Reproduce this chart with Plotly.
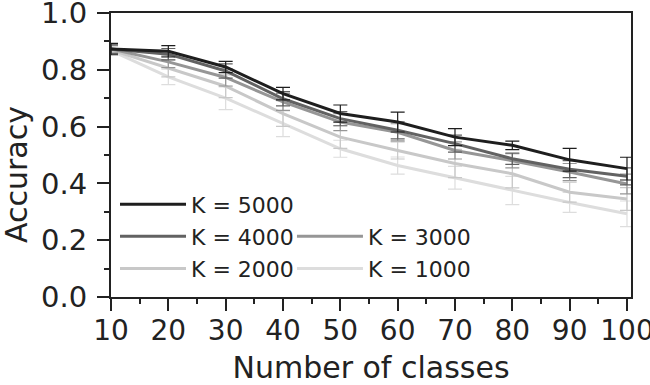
import plotly.graph_objects as go

classes = [10, 20, 30, 40, 50, 60, 70, 80, 90, 100]
acc_k5000 = [0.873, 0.865, 0.810, 0.716, 0.646, 0.616, 0.563, 0.534, 0.483, 0.452]
acc_k4000 = [0.873, 0.855, 0.796, 0.698, 0.628, 0.587, 0.540, 0.487, 0.450, 0.425]
acc_k3000 = [0.873, 0.828, 0.773, 0.687, 0.616, 0.580, 0.516, 0.480, 0.440, 0.398]
acc_k2000 = [0.870, 0.805, 0.742, 0.646, 0.563, 0.516, 0.470, 0.434, 0.369, 0.345]
acc_k1000 = [0.868, 0.775, 0.700, 0.610, 0.522, 0.463, 0.420, 0.375, 0.333, 0.293]
err_k5000 = [0.020, 0.020, 0.020, 0.022, 0.030, 0.035, 0.030, 0.015, 0.040, 0.040]
err_k4000 = [0.015, 0.020, 0.025, 0.025, 0.025, 0.030, 0.030, 0.020, 0.030, 0.030]
err_k3000 = [0.015, 0.020, 0.030, 0.030, 0.030, 0.030, 0.030, 0.025, 0.030, 0.035]
err_k2000 = [0.015, 0.030, 0.040, 0.045, 0.040, 0.030, 0.050, 0.050, 0.035, 0.040]
err_k1000 = [0.015, 0.027, 0.040, 0.045, 0.030, 0.030, 0.040, 0.050, 0.035, 0.045]

series_names = ["K = 5000", "K = 4000", "K = 3000", "K = 2000", "K = 1000"]
series_vals = [acc_k5000, acc_k4000, acc_k3000, acc_k2000, acc_k1000]
series_errs = [err_k5000, err_k4000, err_k3000, err_k2000, err_k1000]
colors = ["#1e1e1e", "#626262", "#969696", "#c8c8c8", "#dddddd"]

x_ticks = [10, 20, 30, 40, 50, 60, 70, 80, 90, 100]
y_ticks = [0.0, 0.2, 0.4, 0.6, 0.8, 1.0]
y_ticklabels = ["0.0", "0.2", "0.4", "0.6", "0.8", "1.0"]
x_title = "Number of classes"
y_title = "Accuracy"

# legend layout: one legend per entry (column, row) as in the reference
legend_ids = ["legend", "legend2", "legend3", "legend4", "legend5"]
legend_col = [0, 0, 1, 0, 1]
legend_row = [0, 1, 1, 2, 2]
col_x = [0.0077, 0.348]
row_y = [0.326, 0.213, 0.10]

fig = go.Figure()
items = list(zip(series_names, series_vals, series_errs, colors, legend_ids))
# draw lightest first so darker lines are on top
for name, vals, errs, col, lg in reversed(items):
    fig.add_trace(go.Scatter(
        x=classes, y=vals, name=name, mode="lines",
        line=dict(color=col, width=3),
        error_y=dict(type="data", array=errs, visible=True, color=col, thickness=1.2, width=7),
        legend=lg,
    ))

font_family = "DejaVu Sans, sans-serif"
txt = "#222222"
legend_layouts = {}
for lg, c, r in zip(legend_ids, legend_col, legend_row):
    legend_layouts[lg] = dict(
        x=col_x[c], y=row_y[r], xanchor="left", yanchor="middle",
        bgcolor="rgba(0,0,0,0)", font=dict(family=font_family, size=22, color=txt),
        itemwidth=66, tracegroupgap=0,
    )

fig.update_layout(
    width=650, height=385,
    margin=dict(l=111, r=19, t=13, b=88),
    plot_bgcolor="white", paper_bgcolor="white",
    font=dict(family=font_family, color=txt),
    showlegend=True,
    **legend_layouts,
    xaxis=dict(
        range=[10, 100.7], tickmode="array", tickvals=x_ticks,
        ticks="outside", ticklen=12, tickwidth=1.5, tickcolor=txt,
        showline=True, linecolor=txt, linewidth=2, mirror=True,
        showgrid=False, zeroline=False, ticklabelstandoff=-5,
        automargin=False, ticklabeloverflow="allow",
        tickfont=dict(size=28, color=txt),
        title=dict(text=x_title, font=dict(size=30, color=txt), standoff=14),
        minor=dict(tickvals=[15, 25, 35, 45, 55, 65, 75, 85, 95], ticks="outside", ticklen=5, tickwidth=1.5, tickcolor=txt),
    ),
    yaxis=dict(
        range=[0, 1.0], tickmode="array", tickvals=y_ticks, ticktext=y_ticklabels,
        ticks="outside", ticklen=12, tickwidth=1.5, tickcolor=txt,
        showline=True, linecolor=txt, linewidth=2, mirror=True,
        showgrid=False, zeroline=False, ticklabelstandoff=4,
        automargin=False, ticklabeloverflow="allow",
        tickfont=dict(size=29, color=txt),
        minor=dict(tickvals=[0.1, 0.3, 0.5, 0.7, 0.9], ticks="outside", ticklen=5, tickwidth=1.5, tickcolor=txt),
    ),
    annotations=[dict(
        text=y_title, textangle=-90, xref="paper", yref="paper",
        x=(16 - 111) / 520, y=(297 - 175) / 284, xanchor="center", yanchor="middle",
        showarrow=False, font=dict(family=font_family, size=30, color=txt),
    )],
)

fig.write_html("out.html", config={"displayModeBar": False},
               post_script="document.body.style.margin='0';")
